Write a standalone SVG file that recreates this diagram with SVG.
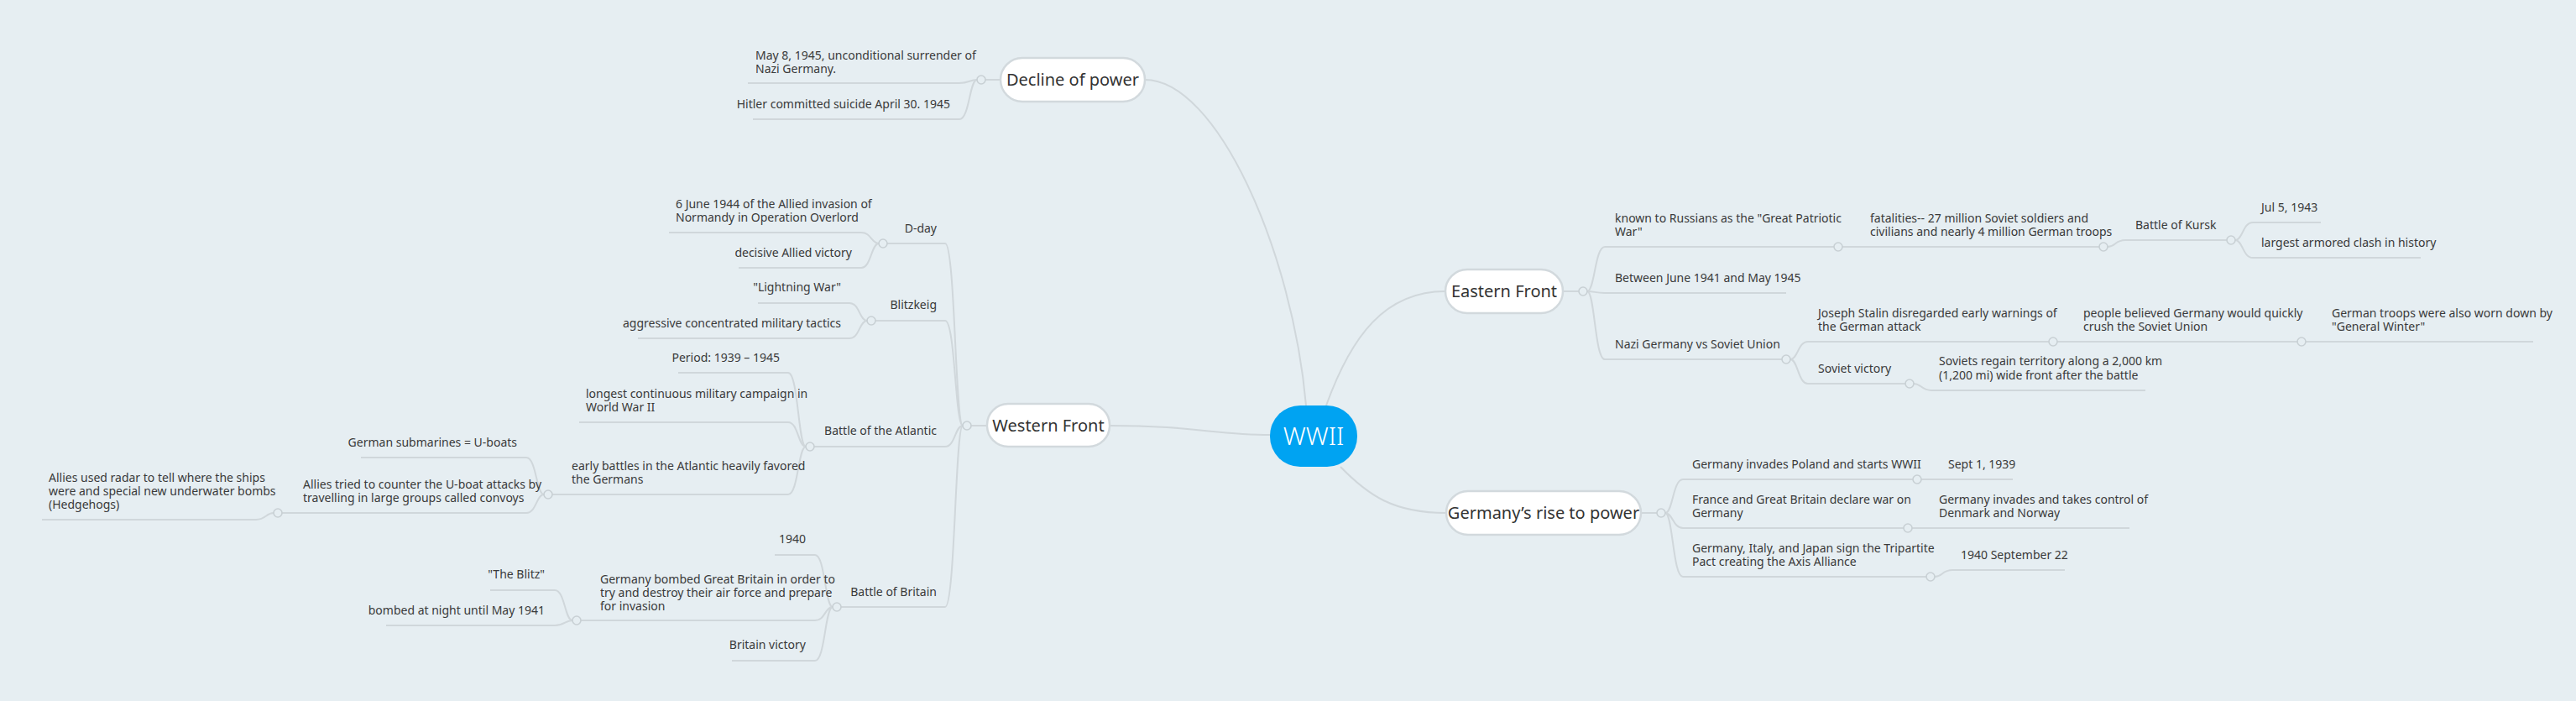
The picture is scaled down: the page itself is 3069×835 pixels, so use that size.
<svg xmlns="http://www.w3.org/2000/svg" width="3069" height="835" viewBox="0 0 3069 835">
<style>
.t{font-family:"Noto Sans","Liberation Sans",sans-serif;font-size:14px;fill:#3a3a3a}
.e{text-anchor:end}
.n{font-family:"Noto Sans","Liberation Sans",sans-serif;font-size:20px;fill:#333;text-anchor:middle}
.box{fill:#fff;stroke:#d2d9dd;stroke-width:2.5}
.c path{fill:none;stroke:#d0d7db;stroke-width:2}
.m{stroke-width:2.5}
.k{fill:#e6eef2;stroke:#c8d0d4;stroke-width:1.6}
</style>
<rect width="3069" height="835" fill="#e6eef2"/>
<g class="c" id="connectors">
<path class="m" d="M1364 95 C1450 95 1540 300 1556 483"/>
<path class="m" d="M1322 507 C1420 507 1450 518 1513 518"/>
<path class="m" d="M1580 483 C1610 400 1650 347 1722 347"/>
<path class="m" d="M1597 556 C1630 590 1660 611 1723 611"/>
<path d="M1174 95 H1192"/>
<path d="M1164 95 C1155 95 1155 99 1143 99 H891"/>
<path d="M1164 95 C1155 95 1155 142 1143 142 H897"/>
<path d="M1157 507 H1176"/>
<path d="M1147 507 C1138 507 1138 290 1126 290 H1057"/>
<path d="M1047 290 C1038 290 1038 277 1026 277 H797"/>
<path d="M1047 290 C1038 290 1038 319 1026 319 H880"/>
<path d="M1147 507 C1138 507 1138 382 1126 382 H1043"/>
<path d="M1033 382 C1024 382 1024 361 1012 361 H903"/>
<path d="M1033 382 C1024 382 1024 403 1012 403 H760"/>
<path d="M1147 507 C1138 507 1138 532 1126 532 H970"/>
<path d="M960 532 C951 532 951 444 939 444 H808"/>
<path d="M960 532 C951 532 951 503 939 503 H690"/>
<path d="M960 532 C951 532 951 589 939 589 H658"/>
<path d="M648 589 C639 589 639 545 627 545 H430"/>
<path d="M648 589 C639 589 639 611 627 611 H336"/>
<path d="M326 611 C317 611 317 619 305 619 H50"/>
<path d="M1147 507 C1138 507 1138 723 1126 723 H1002"/>
<path d="M992 723 C983 723 983 661 971 661 H923"/>
<path d="M992 723 C983 723 983 739 971 739 H692"/>
<path d="M992 723 C983 723 983 787 971 787 H872"/>
<path d="M682 739 C673 739 673 703 661 703 H584"/>
<path d="M682 739 C673 739 673 745 661 745 H460"/>
<path d="M1862 347 H1881"/>
<path d="M1891 347 C1900 347 1900 294 1912 294 H2185"/>
<path d="M2195 294 H2501"/>
<path d="M2511 294 C2520 294 2520 286 2532 286 H2653"/>
<path d="M2663 286 C2672 286 2672 265 2684 265 H2765"/>
<path d="M2663 286 C2672 286 2672 307 2684 307 H2884"/>
<path d="M1891 347 C1900 347 1900 349 1912 349 H2128"/>
<path d="M1891 347 C1900 347 1900 428 1912 428 H2123"/>
<path d="M2133 428 C2142 428 2142 407 2154 407 H2441"/>
<path d="M2451 407 H2737"/>
<path d="M2747 407 H3018"/>
<path d="M2133 428 C2142 428 2142 457 2154 457 H2270"/>
<path d="M2280 457 C2289 457 2289 465 2301 465 H2556"/>
<path d="M1955 611 H1974"/>
<path d="M1984 611 C1993 611 1993 571 2005 571 H2279"/>
<path d="M2289 571 H2398"/>
<path d="M1984 611 C1993 611 1993 629 2005 629 H2268"/>
<path d="M2278 629 H2537"/>
<path d="M1984 611 C1993 611 1993 687 2005 687 H2295"/>
<path d="M2305 687 C2314 687 2314 679 2326 679 H2460"/>
</g>
<g id="knobs">
<circle class="k" cx="1169" cy="95" r="5"/><circle class="k" cx="1152" cy="507" r="5"/>
<circle class="k" cx="1052" cy="290" r="5"/><circle class="k" cx="1038" cy="382" r="5"/>
<circle class="k" cx="965" cy="532" r="5"/><circle class="k" cx="653" cy="589" r="5"/>
<circle class="k" cx="331" cy="611" r="5"/><circle class="k" cx="997" cy="723" r="5"/>
<circle class="k" cx="687" cy="739" r="5"/><circle class="k" cx="1886" cy="347" r="5"/>
<circle class="k" cx="2190" cy="294" r="5"/><circle class="k" cx="2506" cy="294" r="5"/>
<circle class="k" cx="2658" cy="286" r="5"/><circle class="k" cx="2128" cy="428" r="5"/>
<circle class="k" cx="2446" cy="407" r="5"/><circle class="k" cx="2742" cy="407" r="5"/>
<circle class="k" cx="2275" cy="457" r="5"/><circle class="k" cx="1979" cy="611" r="5"/>
<circle class="k" cx="2284" cy="571" r="5"/><circle class="k" cx="2273" cy="629" r="5"/>
<circle class="k" cx="2300" cy="687" r="5"/>
</g>
<g id="wwii"><rect x="1513" y="483" width="104" height="73" rx="36" fill="#00a3f2"/><text x="1565" y="530" font-family="Noto Sans, sans-serif" font-size="30" font-weight="300" fill="#fff" text-anchor="middle">WWII</text></g>
<g id="decline"><rect class="box" x="1192" y="69" width="172" height="52" rx="26"/><text class="n" x="1278" y="102">Decline of power</text></g>
<g id="western"><rect class="box" x="1176" y="481" width="146" height="51" rx="25"/><text class="n" x="1249" y="514">Western Front</text></g>
<g id="eastern"><rect class="box" x="1722" y="321" width="140" height="52" rx="26"/><text class="n" x="1792" y="354">Eastern Front</text></g>
<g id="rise"><rect class="box" x="1723" y="585" width="232" height="52" rx="26"/><text class="n" x="1839" y="618">Germany’s rise to power</text></g>
<g id="leaves-left">
<text class="t" x="900" y="71">May 8, 1945,  unconditional surrender of</text><text class="t" x="900" y="87">Nazi Germany.</text>
<text class="t e" x="1132" y="129">Hitler committed suicide April 30. 1945</text>
<text class="t e" x="1116" y="277">D-day</text>
<text class="t" x="805" y="248">6 June 1944 of the Allied invasion of</text><text class="t" x="805" y="264">Normandy in Operation Overlord</text>
<text class="t e" x="1015" y="306">decisive Allied victory</text>
<text class="t e" x="1116" y="368">Blitzkeig</text>
<text class="t e" x="1002" y="347">"Lightning War"</text>
<text class="t e" x="1002" y="390">aggressive concentrated military tactics</text>
<text class="t e" x="1116" y="518">Battle of the Atlantic</text>
<text class="t e" x="929" y="431">Period: 1939 – 1945</text>
<text class="t" x="698" y="474">longest continuous military campaign in</text><text class="t" x="698" y="490">World War II</text>
<text class="t" x="681" y="560">early battles in the Atlantic heavily favored</text><text class="t" x="681" y="576">the Germans</text>
<text class="t e" x="616" y="532">German submarines = U-boats</text>
<text class="t" x="361" y="582">Allies tried to counter the U-boat attacks by</text><text class="t" x="361" y="598">travelling in large groups called convoys</text>
<text class="t" x="58" y="574">Allies used radar to tell where the ships</text><text class="t" x="58" y="590">were and special new underwater bombs</text><text class="t" x="58" y="606">(Hedgehogs)</text>
<text class="t e" x="1116" y="710">Battle of Britain</text>
<text class="t e" x="960" y="647">1940</text>
<text class="t" x="715" y="695">Germany bombed Great Britain in order to</text><text class="t" x="715" y="711">try and destroy their air force and prepare</text><text class="t" x="715" y="727">for invasion</text>
<text class="t e" x="960" y="773">Britain victory</text>
<text class="t e" x="649" y="689">"The Blitz"</text>
<text class="t e" x="649" y="732">bombed at night until May 1941</text>
</g>
<g id="leaves-right">
<text class="t" x="1924" y="265">known to Russians as the "Great Patriotic</text><text class="t" x="1924" y="281">War"</text>
<text class="t" x="2228" y="265">fatalities-- 27 million Soviet soldiers and</text><text class="t" x="2228" y="281">civilians and nearly 4 million German troops</text>
<text class="t" x="2544" y="273">Battle of Kursk</text>
<text class="t" x="2694" y="252">Jul 5, 1943</text>
<text class="t" x="2694" y="294">largest armored clash in history</text>
<text class="t" x="1924" y="336">Between June 1941 and May 1945</text>
<text class="t" x="1924" y="415">Nazi Germany vs Soviet Union</text>
<text class="t" x="2166" y="378">Joseph Stalin disregarded early warnings of</text><text class="t" x="2166" y="394">the German attack</text>
<text class="t" x="2482" y="378">people believed Germany would quickly</text><text class="t" x="2482" y="394">crush the Soviet Union</text>
<text class="t" x="2778" y="378">German troops were also worn down by</text><text class="t" x="2778" y="394">"General Winter"</text>
<text class="t" x="2166" y="444">Soviet victory</text>
<text class="t" x="2310" y="435">Soviets regain territory along a 2,000 km</text><text class="t" x="2310" y="452">(1,200 mi) wide front after the battle</text>
<text class="t" x="2016" y="558">Germany invades Poland and starts WWII</text>
<text class="t" x="2321" y="558">Sept 1, 1939</text>
<text class="t" x="2016" y="600">France and Great Britain declare war on</text><text class="t" x="2016" y="616">Germany</text>
<text class="t" x="2310" y="600">Germany invades and takes control of</text><text class="t" x="2310" y="616">Denmark and Norway</text>
<text class="t" x="2016" y="658">Germany, Italy, and Japan sign the Tripartite</text><text class="t" x="2016" y="674">Pact creating the Axis Alliance</text>
<text class="t" x="2336" y="666">1940 September 22</text>
</g>
</svg>
